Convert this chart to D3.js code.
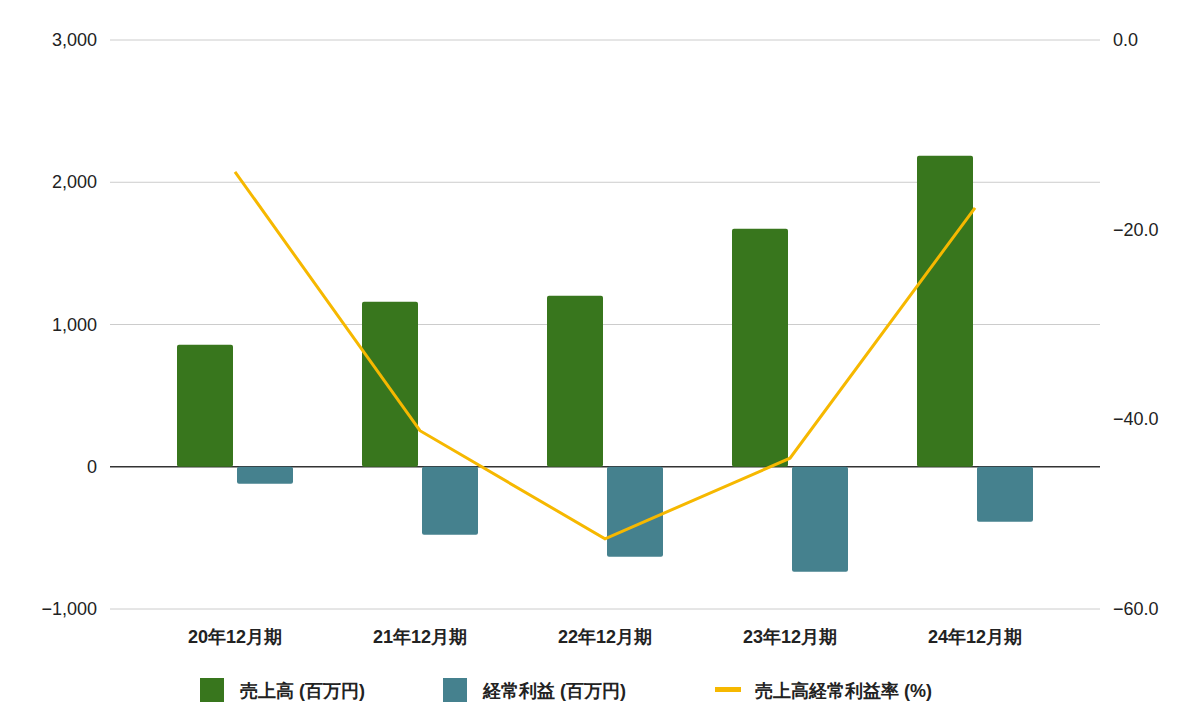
<!DOCTYPE html>
<html><head><meta charset="utf-8">
<script src="https://cdn.jsdelivr.net/npm/d3@7"></script>
<style>body{margin:0;background:#fff;font-family:"Liberation Sans",Arial,sans-serif}</style>
</head><body><div id="canvas"></div>
<script>
var categories = ['20年12月期','21年12月期','22年12月期','23年12月期','24年12月期'];
var sales = [857, 1160, 1202, 1673, 2186];
var profit = [-119, -478, -632, -738, -387];
var ratio = [-13.9, -41.2, -52.6, -44.1, -17.7];
var leftTicks = [-1000, 0, 1000, 2000, 3000];
var rightTicks = [-60, -40, -20, 0];

var W = 1200, H = 721;
var svg = d3.select('#canvas').append('svg').attr('width', W).attr('height', H);

var x = d3.scaleBand().domain(categories).range([142.5, 1067.5]);
var y = d3.scaleLinear().domain([-1000, 3000]).range([609, 40]);
var y2 = d3.scaleLinear().domain([-60, 0]).range([609, 40]);

// gridlines
svg.selectAll('.grid').data(leftTicks).enter().append('line')
  .attr('x1', 110).attr('x2', 1100)
  .attr('y1', d => y(d)).attr('y2', d => y(d))
  .attr('stroke', d => d === 0 ? '#333' : '#ccc').attr('stroke-width', d => d === 0 ? 1.5 : 1);

svg.selectAll('.lt').data(leftTicks).enter().append('text')
  .attr('x', 97).attr('y', d => y(d) + 6).attr('text-anchor', 'end')
  .attr('font-size', 18).attr('fill', '#222').text(d3.format(','));
svg.selectAll('.rt').data(rightTicks).enter().append('text')
  .attr('x', 1113).attr('y', d => y2(d) + 6)
  .attr('font-size', 18).attr('fill', '#222').text(d3.format('.1f'));

var bw = 56;
svg.selectAll('.s').data(sales).enter().append('rect')
  .attr('x', (d, i) => x(categories[i]) + x.bandwidth() / 2 - bw - 2)
  .attr('width', bw).attr('y', d => y(d)).attr('height', d => y(0) - y(d))
  .attr('rx', 2).attr('fill', '#38761d');
svg.selectAll('.p').data(profit).enter().append('rect')
  .attr('x', (d, i) => x(categories[i]) + x.bandwidth() / 2 + 2)
  .attr('width', bw).attr('y', y(0)).attr('height', d => y(d) - y(0))
  .attr('rx', 2).attr('fill', '#45818e');

svg.append('path').datum(ratio)
  .attr('d', d3.line().x((d, i) => x(categories[i]) + x.bandwidth() / 2).y(d => y2(d)))
  .attr('fill', 'none').attr('stroke', '#f6b800').attr('stroke-width', 3);

svg.selectAll('.cat').data(categories).enter().append('text')
  .attr('x', d => x(d) + x.bandwidth() / 2).attr('y', 643).attr('text-anchor', 'middle')
  .attr('font-size', 18).attr('font-weight', 'bold').attr('fill', '#222').text(d => d);

// legend
var legend = [
  {label: '売上高 (百万円)', color: '#38761d', x: 200, type: 'box'},
  {label: '経常利益 (百万円)', color: '#45818e', x: 443, type: 'box'},
  {label: '売上高経常利益率 (%)', color: '#f6b800', x: 715, type: 'line'}
];
legend.forEach(function(l) {
  if (l.type === 'box') {
    svg.append('rect').attr('x', l.x).attr('y', 678).attr('width', 24).attr('height', 24).attr('fill', l.color);
  } else {
    svg.append('rect').attr('x', l.x).attr('y', 687).attr('width', 26).attr('height', 5).attr('fill', l.color);
  }
  svg.append('text').attr('x', l.x + 40).attr('y', 697).attr('font-size', 18).attr('font-weight', 'bold')
    .attr('fill', '#222').text(l.label);
});
</script></body></html>
